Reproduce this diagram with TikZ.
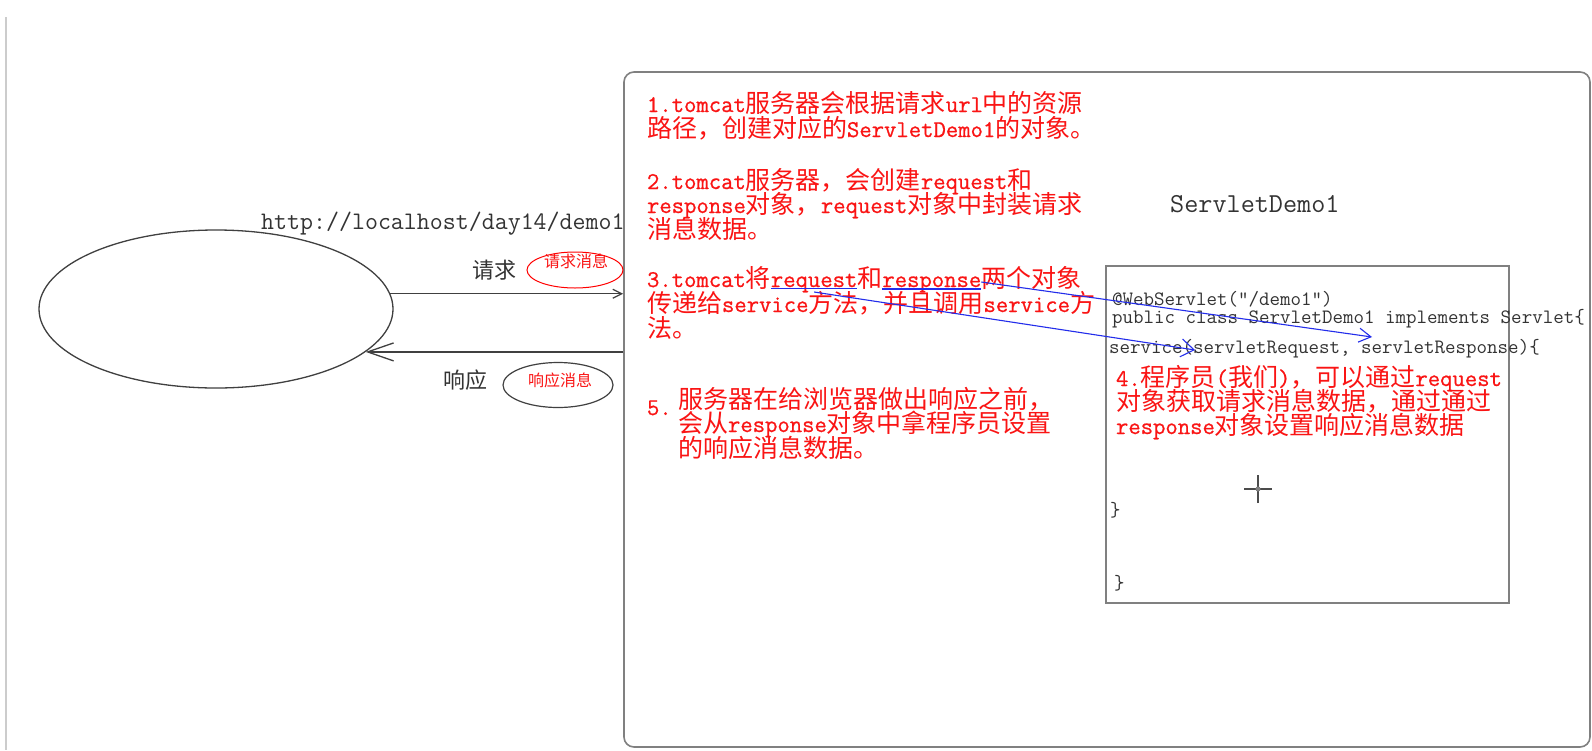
\documentclass[tikz,border=0pt]{standalone}
\usepackage{fontspec}
\newfontfamily\zhfont{Noto Sans CJK SC}
\newfontfamily\enfont[FakeBold=0.8]{Latin Modern Mono}
\usetikzlibrary{shapes.geometric,arrows.meta,calc}
\definecolor{ublue}{RGB}{35,45,235}
\definecolor{txtred}{RGB}{250,20,20}
\newcommand\en[1]{{\enfont\fontsize{24}{25}\selectfont #1}}
\tikzset{
  redtxt/.style={anchor=base west,inner sep=0pt,outer sep=0pt,text=txtred,font=\zhfont\fontsize{25}{25}\selectfont},
  codetxt/.style={anchor=base west,inner sep=0pt,outer sep=0pt,text=black!80,font=\ttfamily\fontsize{20.4}{21}\selectfont},
  zhlabel/.style={inner sep=0pt,text=black!80,font=\zhfont\fontsize{22}{22}\selectfont},
  msgtxt/.style={inner sep=0pt,text=txtred,font=\zhfont\fontsize{16}{16}\selectfont},
  frame/.style={draw=black!50,line width=1.6pt},
  conn/.style={draw=black!75,line width=1.3pt},
  bluel/.style={draw=ublue,line width=1.1pt},
}
\begin{document}
\begin{tikzpicture}[x=1pt,y=-1pt]
\fill[white] (0,0) rectangle (1592,750);
\useasboundingbox (0,0) rectangle (1592,750);
% left edge line
\draw[black!20,line width=2pt] (6,17) -- (6,750);
% server frame
\node[frame,rectangle,rounded corners=10pt,minimum width=966pt,minimum height=675pt,inner sep=0pt] (server) at (1107,409.5) {};
% browser
\node[ellipse,draw=black!75,line width=1.3pt,minimum width=354pt,minimum height=158pt,inner sep=0pt] (browser) at (216,309) {};
% URL
\node[anchor=base west,inner sep=0pt,text=black!80,font=\ttfamily\fontsize{25.2}{26}\selectfont] (url) at (261,229) {http://localhost/day14/demo1};
% request / response arrows
\draw[conn,-{Straight Barb[length=9pt,width=9pt]}] (browser.5.6) -- (browser.5.6 -| server.west);
\draw[conn,-{Straight Barb[length=26pt,width=18pt]}] (browser.-16 -| server.west) -- (browser.-16);
\node[zhlabel] (lbreq) at (494,270) {请求};
\node[zhlabel] (lbresp) at (465,380) {响应};
\node[ellipse,draw=red,line width=1pt,minimum width=96pt,minimum height=36pt,inner sep=0pt] (reqmsg) at (575,270) {};
\node[msgtxt] (reqmsgt) at (576,261) {请求消息};
\node[ellipse,draw=black!75,line width=1.2pt,minimum width=110pt,minimum height=45pt,inner sep=0pt] (respmsg) at (558,385) {};
\node[msgtxt] (respmsgt) at (560,380) {响应消息};
% servlet class box
\node[frame,rectangle,minimum width=403pt,minimum height=337pt,inner sep=0pt] (servlet) at (1307.5,434.5) {};
\node[anchor=base west,inner sep=0pt,text=black!80,font=\ttfamily\fontsize{27.4}{28}\selectfont] (sdtitle) at (1170,212) {ServletDemo1};
\node[codetxt] (c1) at (1112,305) {@WebServlet(”/demo1”)};
\node[codetxt] (c2) at (1112,323) {public class ServletDemo1 implements Servlet\{};
\node[codetxt] (c3) at (1109,353) {service(servletRequest, servletResponse)\{};
\node[codetxt] (c4) at (1110,516) {\}};
\node[codetxt] (c5) at (1114,589) {\}};
% cursor
\coordinate (cursor) at (1258,489);
\draw[black!70,line width=1.4pt] ([xshift=-14pt]cursor) -- ([xshift=14pt]cursor);
\draw[black!70,line width=1.4pt] ([yshift=-14pt]cursor) -- ([yshift=14pt]cursor);
\fill[black!50] (cursor) circle (2.5pt);
% item 1
\node[redtxt] (t1a) at (647,112) {\en{1.tomcat}服务器会根据请求\en{url}中的资源};
\node[redtxt] (t1b) at (647,137) {路径，创建对应的\en{ServletDemo1}的对象。};
% item 2
\node[redtxt] (t2a) at (647,189) {\en{2.tomcat}服务器，会创建\en{request}和};
\node[redtxt] (t2b) at (647,213) {\en{response}对象，\en{request}对象中封装请求};
\node[redtxt] (t2c) at (647,238) {消息数据。};
% item 3
\node[redtxt] (t3a) at (647,287) {\en{3.tomcat}将};
\node[redtxt] (t3req) at (t3a.base east) {\en{request}};
\node[redtxt] (t3b) at (t3req.base east) {和};
\node[redtxt] (t3resp) at (t3b.base east) {\en{response}};
\node[redtxt] (t3c) at (t3resp.base east) {两个对象};
\node[redtxt] (t3d) at (647,312) {传递给\en{service}方法，并且调用\en{service}方};
\node[redtxt] (t3e) at (647,337) {法。};
% item 4
\node[redtxt] (t4a) at (1116,386) {\en{4.}程序员\en{(}我们\en{)}，可以通过\en{request}};
\node[redtxt] (t4b) at (1116,410) {对象获取请求消息数据，通过通过};
\node[redtxt] (t4c) at (1116,434) {\en{response}对象设置响应消息数据};
% item 5
\node[redtxt] (t5n) at (647,415) {\en{5.}};
\node[redtxt] (t5a) at (678,408) {服务器在给浏览器做出响应之前，};
\node[redtxt] (t5b) at (678,432) {会从\en{response}对象中拿程序员设置};
\node[redtxt] (t5c) at (678,457) {的响应消息数据。};
% blue marks
\coordinate (tipresp) at (1372,337);
\coordinate (tipreq) at (1195,350);
\draw[bluel] ([yshift=-1.5pt]t3req.base west) -- ([yshift=-1.5pt]t3req.base east);
\draw[bluel] ([yshift=-2pt]t3resp.base west) -- ([yshift=-2pt]t3resp.base east);
\draw[bluel,-{Straight Barb[length=12pt,width=14pt]}] ([yshift=5pt]t3resp.base east) -- (tipresp);
\draw[bluel,-{Straight Barb[length=13pt,width=18pt]}] ([yshift=-5pt]t3req.base) -- (tipreq);
\end{tikzpicture}
\end{document}
